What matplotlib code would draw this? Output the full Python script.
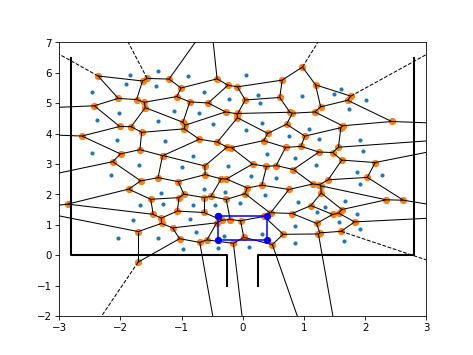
import itertools
import numpy as np
import matplotlib
matplotlib.use('Agg')
import matplotlib.pyplot as plt
from matplotlib.collections import LineCollection

# Точки (центры ячеек Вороного)
x_pts = [-1.84, -1.38, -1.91, -1.41, -0.90, -2.47, -0.63, -0.23, -2.03, -1.13,
         -0.71, -2.39, -1.38, -0.48, -2.06, -1.27, -2.47, -0.82, -1.69, -1.00,
         -0.24, -2.16, 0.05, 0.25, 0.29, 0.97, 1.49, 1.60, 2.01, 1.73,
         0.32, 0.06, 1.09, 0.76, 1.25, 1.91, 1.96, 0.40, 0.86, 1.19,
         1.86, 2.28, 0.14, 0.55, -1.34, -0.63, -0.29, -1.68, -1.30, -0.81,
         -0.46, -0.05, -1.80, -0.86, -0.76, -2.04, -1.38, -0.30, -0.97, -0.40,
         1.91, 0.37, 0.91, 1.67, 1.35, 1.21, 1.86, 1.57, 1.91, 0.85,
         0.32, 0.86, 1.66, 0.11]
y_pts = [5.94, 6.06, 5.63, 5.55, 5.89, 5.38, 5.36, 5.14, 4.67, 4.75,
         4.68, 4.45, 4.43, 4.33, 3.80, 3.76, 3.36, 3.26, 2.97, 2.90,
         2.92, 2.63, 5.94, 5.28, 5.00, 5.23, 5.29, 5.46, 5.09, 4.80,
         4.36, 4.11, 4.16, 3.91, 3.82, 3.78, 3.43, 3.33, 3.21, 2.97,
         2.74, 2.63, 2.59, 2.54, 2.03, 2.19, 2.09, 1.66, 1.69, 1.66,
         1.66, 1.70, 1.16, 1.19, 0.76, 0.56, 0.56, 0.63, 0.20, 0.25,
         2.34, 1.97, 1.76, 1.78, 1.58, 1.41, 1.35, 1.09, 0.85, 0.97,
         0.69, 0.41, 0.48, 0.28]

# Стены комнаты (U-образный контур)
wall_left_x = [-2.8, -2.8, -0.25, -0.25]
wall_left_y = [6.5, 0.0, 0.0, -1.0]
wall_right_x = [0.25, 0.25, 2.8, 2.8]
wall_right_y = [-1.0, 0.0, 0.0, 6.5]

# Синий прямоугольник
rect_x = [-0.4, 0.4, 0.4, -0.4, -0.4]
rect_y = [1.3, 1.3, 0.5, 0.5, 1.3]

points = np.column_stack([x_pts, y_pts])
n = len(points)

# Триангуляция Делоне перебором: круг через три точки не содержит других
tri = np.array(list(itertools.combinations(range(n), 3)))
A, B, C = points[tri[:, 0]], points[tri[:, 1]], points[tri[:, 2]]
d = 2 * (A[:, 0] * (B[:, 1] - C[:, 1]) + B[:, 0] * (C[:, 1] - A[:, 1]) + C[:, 0] * (A[:, 1] - B[:, 1]))
good = np.abs(d) > 1e-9
tri, A, B, C, d = tri[good], A[good], B[good], C[good], d[good]
a2 = (A ** 2).sum(1)
b2 = (B ** 2).sum(1)
c2 = (C ** 2).sum(1)
cx = (a2 * (B[:, 1] - C[:, 1]) + b2 * (C[:, 1] - A[:, 1]) + c2 * (A[:, 1] - B[:, 1])) / d
cy = (a2 * (C[:, 0] - B[:, 0]) + b2 * (A[:, 0] - C[:, 0]) + c2 * (B[:, 0] - A[:, 0])) / d
r2 = (A[:, 0] - cx) ** 2 + (A[:, 1] - cy) ** 2
dist2 = (cx[:, None] - points[None, :, 0]) ** 2 + (cy[:, None] - points[None, :, 1]) ** 2
empty = ~(dist2 < r2[:, None] - 1e-9).any(1)
tri = tri[empty]
vertices = np.column_stack([cx[empty], cy[empty]])

# Рёбра Вороного
edges = {}
for k, t in enumerate(tri):
    for i, j in ((t[0], t[1]), (t[1], t[2]), (t[0], t[2])):
        edges.setdefault((min(i, j), max(i, j)), []).append(k)

center = points.mean(axis=0)
ptp_bound = np.ptp(points, axis=0)
aspect_factor = abs(ptp_bound.max() / ptp_bound.min())
finite_segments = []
infinite_segments = []
for (i, j), ks in edges.items():
    if len(ks) == 2:
        finite_segments.append([vertices[ks[0]], vertices[ks[1]]])
    else:
        t = points[j] - points[i]
        t /= np.linalg.norm(t)
        nrm = np.array([-t[1], t[0]])
        midpoint = points[[i, j]].mean(axis=0)
        direction = np.sign(np.dot(midpoint - center, nrm)) * nrm
        far_point = vertices[ks[0]] + direction * ptp_bound.max() * aspect_factor
        infinite_segments.append([vertices[ks[0]], far_point])

fig, ax = plt.subplots(figsize=(6.4, 4.8), dpi=74)
ax.plot(points[:, 0], points[:, 1], '.')
ax.plot(vertices[:, 0], vertices[:, 1], 'o')
ax.add_collection(LineCollection(finite_segments, colors='k', lw=1.0, linestyle='solid'))
ax.add_collection(LineCollection(infinite_segments, colors='k', lw=1.0, linestyle='dashed'))

ax.plot(wall_left_x, wall_left_y, 'k-', linewidth=2)
ax.plot(wall_right_x, wall_right_y, 'k-', linewidth=2)
ax.plot(rect_x, rect_y, 'bo-', linewidth=1.5)

ax.set_xlim(-3, 3)
ax.set_ylim(-2, 7)
plt.savefig('out.png')
